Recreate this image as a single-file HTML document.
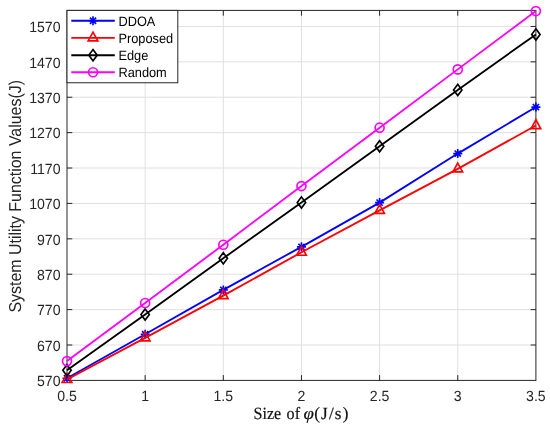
<!DOCTYPE html><html><head><meta charset="utf-8"><title>chart</title><style>html,body{margin:0;padding:0;background:#fff}svg{display:block}text{font-family:"Liberation Sans",sans-serif;fill:#262626;text-rendering:geometricPrecision}.tk{font-size:14.8px}.lg{font-size:12.8px;fill:#000}.yl{font-size:15.95px}.xl{font-family:"Liberation Serif",serif;font-size:17.2px;fill:#111;stroke:#111;stroke-width:0.2px}</style></head><body>
<svg width="550" height="427" viewBox="0 0 550 427">
<rect width="550" height="427" fill="#fff"/>
<path d="M145.15 10.4V380.4M223.30 10.4V380.4M301.45 10.4V380.4M379.60 10.4V380.4M457.75 10.4V380.4M67.0 345.00H535.9M67.0 309.61H535.9M67.0 274.21H535.9M67.0 238.82H535.9M67.0 203.42H535.9M67.0 168.03H535.9M67.0 132.63H535.9M67.0 97.24H535.9M67.0 61.84H535.9M67.0 26.45H535.9" stroke="#e0e0e0" stroke-width="1" fill="none"/>
<rect x="67.0" y="10.4" width="468.90" height="370.00" fill="none" stroke="#262626" stroke-width="1"/>
<path d="M145.15 380.4v-5.3M145.15 10.4v5.3M223.30 380.4v-5.3M223.30 10.4v5.3M301.45 380.4v-5.3M301.45 10.4v5.3M379.60 380.4v-5.3M379.60 10.4v5.3M457.75 380.4v-5.3M457.75 10.4v5.3M67.0 345.00h5.3M535.9 345.00h-5.3M67.0 309.61h5.3M535.9 309.61h-5.3M67.0 274.21h5.3M535.9 274.21h-5.3M67.0 238.82h5.3M535.9 238.82h-5.3M67.0 203.42h5.3M535.9 203.42h-5.3M67.0 168.03h5.3M535.9 168.03h-5.3M67.0 132.63h5.3M535.9 132.63h-5.3M67.0 97.24h5.3M535.9 97.24h-5.3M67.0 61.84h5.3M535.9 61.84h-5.3M67.0 26.45h5.3M535.9 26.45h-5.3" stroke="#262626" stroke-width="1" fill="none"/>
<text class="tk" transform="translate(67.00,401.1) scale(0.953,1)" text-anchor="middle">0.5</text>
<text class="tk" transform="translate(145.15,401.1) scale(0.953,1)" text-anchor="middle">1</text>
<text class="tk" transform="translate(223.30,401.1) scale(0.953,1)" text-anchor="middle">1.5</text>
<text class="tk" transform="translate(301.45,401.1) scale(0.953,1)" text-anchor="middle">2</text>
<text class="tk" transform="translate(379.60,401.1) scale(0.953,1)" text-anchor="middle">2.5</text>
<text class="tk" transform="translate(457.75,401.1) scale(0.953,1)" text-anchor="middle">3</text>
<text class="tk" transform="translate(535.90,401.1) scale(0.953,1)" text-anchor="middle">3.5</text>
<text class="tk" transform="translate(60.5,386.20) scale(0.953,1)" text-anchor="end">570</text>
<text class="tk" transform="translate(60.5,350.81) scale(0.953,1)" text-anchor="end">670</text>
<text class="tk" transform="translate(60.5,315.41) scale(0.953,1)" text-anchor="end">770</text>
<text class="tk" transform="translate(60.5,280.01) scale(0.953,1)" text-anchor="end">870</text>
<text class="tk" transform="translate(60.5,244.62) scale(0.953,1)" text-anchor="end">970</text>
<text class="tk" transform="translate(60.5,209.22) scale(0.953,1)" text-anchor="end">1070</text>
<text class="tk" transform="translate(60.5,173.83) scale(0.953,1)" text-anchor="end">1170</text>
<text class="tk" transform="translate(60.5,138.44) scale(0.953,1)" text-anchor="end">1270</text>
<text class="tk" transform="translate(60.5,103.04) scale(0.953,1)" text-anchor="end">1370</text>
<text class="tk" transform="translate(60.5,67.64) scale(0.953,1)" text-anchor="end">1470</text>
<text class="tk" transform="translate(60.5,32.25) scale(0.953,1)" text-anchor="end">1570</text>
<polyline points="67.00,378.28 145.15,334.21 223.30,289.89 301.45,246.82 379.60,202.61 457.75,153.59 535.90,107.08" stroke="#0000ff" stroke-width="1.85" fill="none"/>
<path d="M62.50 378.28H71.50M67.00 373.78V382.78M63.90 375.18L70.10 381.38M63.90 381.38L70.10 375.18" stroke="#0000ff" stroke-width="1.65" fill="none"/>
<path d="M140.65 334.21H149.65M145.15 329.71V338.71M142.05 331.11L148.25 337.31M142.05 337.31L148.25 331.11" stroke="#0000ff" stroke-width="1.65" fill="none"/>
<path d="M218.80 289.89H227.80M223.30 285.39V294.39M220.20 286.79L226.40 292.99M220.20 292.99L226.40 286.79" stroke="#0000ff" stroke-width="1.65" fill="none"/>
<path d="M296.95 246.82H305.95M301.45 242.32V251.32M298.35 243.72L304.55 249.92M298.35 249.92L304.55 243.72" stroke="#0000ff" stroke-width="1.65" fill="none"/>
<path d="M375.10 202.61H384.10M379.60 198.11V207.11M376.50 199.51L382.70 205.71M376.50 205.71L382.70 199.51" stroke="#0000ff" stroke-width="1.65" fill="none"/>
<path d="M453.25 153.59H462.25M457.75 149.09V158.09M454.65 150.49L460.85 156.69M454.65 156.69L460.85 150.49" stroke="#0000ff" stroke-width="1.65" fill="none"/>
<path d="M531.40 107.08H540.40M535.90 102.58V111.58M532.80 103.98L539.00 110.18M532.80 110.18L539.00 103.98" stroke="#0000ff" stroke-width="1.65" fill="none"/>
<polyline points="67.00,379.52 145.15,337.82 223.30,295.63 301.45,252.27 379.60,210.43 457.75,168.88 535.90,125.56" stroke="#ff0000" stroke-width="1.85" fill="none"/>
<path d="M67.00 373.72L71.85 382.52H62.15Z" stroke="#ff0000" stroke-width="1.65" fill="none" stroke-linejoin="miter"/>
<path d="M145.15 332.02L150.00 340.82H140.30Z" stroke="#ff0000" stroke-width="1.65" fill="none" stroke-linejoin="miter"/>
<path d="M223.30 289.83L228.15 298.63H218.45Z" stroke="#ff0000" stroke-width="1.65" fill="none" stroke-linejoin="miter"/>
<path d="M301.45 246.47L306.30 255.27H296.60Z" stroke="#ff0000" stroke-width="1.65" fill="none" stroke-linejoin="miter"/>
<path d="M379.60 204.63L384.45 213.43H374.75Z" stroke="#ff0000" stroke-width="1.65" fill="none" stroke-linejoin="miter"/>
<path d="M457.75 163.08L462.60 171.88H452.90Z" stroke="#ff0000" stroke-width="1.65" fill="none" stroke-linejoin="miter"/>
<path d="M535.90 119.76L540.75 128.56H531.05Z" stroke="#ff0000" stroke-width="1.65" fill="none" stroke-linejoin="miter"/>
<polyline points="67.00,370.31 145.15,314.49 223.30,258.29 301.45,202.47 379.60,146.26 457.75,89.91 535.90,34.41" stroke="#000000" stroke-width="1.85" fill="none"/>
<path d="M67.00 364.71L71.20 370.31L67.00 375.91L62.80 370.31Z" stroke="#000000" stroke-width="1.65" fill="none" stroke-linejoin="miter"/>
<path d="M145.15 308.89L149.35 314.49L145.15 320.09L140.95 314.49Z" stroke="#000000" stroke-width="1.65" fill="none" stroke-linejoin="miter"/>
<path d="M223.30 252.69L227.50 258.29L223.30 263.89L219.10 258.29Z" stroke="#000000" stroke-width="1.65" fill="none" stroke-linejoin="miter"/>
<path d="M301.45 196.87L305.65 202.47L301.45 208.07L297.25 202.47Z" stroke="#000000" stroke-width="1.65" fill="none" stroke-linejoin="miter"/>
<path d="M379.60 140.66L383.80 146.26L379.60 151.86L375.40 146.26Z" stroke="#000000" stroke-width="1.65" fill="none" stroke-linejoin="miter"/>
<path d="M457.75 84.31L461.95 89.91L457.75 95.51L453.55 89.91Z" stroke="#000000" stroke-width="1.65" fill="none" stroke-linejoin="miter"/>
<path d="M535.90 28.81L540.10 34.41L535.90 40.01L531.70 34.41Z" stroke="#000000" stroke-width="1.65" fill="none" stroke-linejoin="miter"/>
<polyline points="67.00,361.11 145.15,302.99 223.30,244.73 301.45,186.08 379.60,127.68 457.75,69.38 535.90,11.05" stroke="#ff00ff" stroke-width="1.85" fill="none"/>
<circle cx="67.00" cy="361.11" r="4.5" stroke="#ff00ff" stroke-width="1.65" fill="none"/>
<circle cx="145.15" cy="302.99" r="4.5" stroke="#ff00ff" stroke-width="1.65" fill="none"/>
<circle cx="223.30" cy="244.73" r="4.5" stroke="#ff00ff" stroke-width="1.65" fill="none"/>
<circle cx="301.45" cy="186.08" r="4.5" stroke="#ff00ff" stroke-width="1.65" fill="none"/>
<circle cx="379.60" cy="127.68" r="4.5" stroke="#ff00ff" stroke-width="1.65" fill="none"/>
<circle cx="457.75" cy="69.38" r="4.5" stroke="#ff00ff" stroke-width="1.65" fill="none"/>
<circle cx="535.90" cy="11.05" r="4.5" stroke="#ff00ff" stroke-width="1.65" fill="none"/>
<rect x="67.0" y="10.4" width="110.8" height="72.35" fill="#fff" stroke="#262626" stroke-width="1"/>
<path d="M71.3 20.75H114.8" stroke="#0000ff" stroke-width="1.85"/>
<path d="M88.50 20.75H97.50M93.00 16.25V25.25M89.90 17.65L96.10 23.85M89.90 23.85L96.10 17.65" stroke="#0000ff" stroke-width="1.65" fill="none"/>
<text class="lg" transform="translate(118.4,26.00) scale(1,1.06)">DDOA</text>
<path d="M71.3 37.9H114.8" stroke="#ff0000" stroke-width="1.85"/>
<path d="M93.00 32.10L97.85 40.90H88.15Z" stroke="#ff0000" stroke-width="1.65" fill="none" stroke-linejoin="miter"/>
<text class="lg" transform="translate(118.4,43.15) scale(1,1.06)">Proposed</text>
<path d="M71.3 55.2H114.8" stroke="#000000" stroke-width="1.85"/>
<path d="M93.00 49.60L97.20 55.20L93.00 60.80L88.80 55.20Z" stroke="#000000" stroke-width="1.65" fill="none" stroke-linejoin="miter"/>
<text class="lg" transform="translate(118.4,60.45) scale(1,1.06)">Edge</text>
<path d="M71.3 72.2H114.8" stroke="#ff00ff" stroke-width="1.85"/>
<circle cx="93.00" cy="72.20" r="4.5" stroke="#ff00ff" stroke-width="1.65" fill="none"/>
<text class="lg" transform="translate(118.4,77.45) scale(1,1.06)">Random</text>
<text class="yl" transform="translate(20.9,196.3) rotate(-90) scale(1,1.08)" text-anchor="middle">System Utility Function Values(J)</text>
<text class="xl" y="419.0"><tspan x="253.6" textLength="27.6" lengthAdjust="spacingAndGlyphs">Size</tspan> <tspan x="286.6" textLength="13.4" lengthAdjust="spacingAndGlyphs">of</tspan> <tspan x="303.6" font-style="italic" textLength="10.4" lengthAdjust="spacingAndGlyphs">φ</tspan><tspan x="314.2" textLength="34.2" lengthAdjust="spacing">(J/s)</tspan></text>
</svg></body></html>
